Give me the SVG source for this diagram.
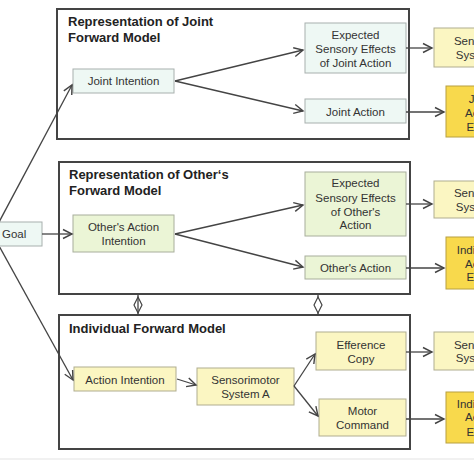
<svg xmlns="http://www.w3.org/2000/svg" width="474" height="474" viewBox="0 0 474 474">
<defs>
<marker id="ah" markerUnits="userSpaceOnUse" markerWidth="12" markerHeight="12" refX="10" refY="6" orient="auto">
<path d="M1,1.5 L10,6 L1,10.5" fill="none" stroke="#444" stroke-width="1.4"/>
</marker>
<style>
.frame{fill:#fff;stroke:#444;stroke-width:2}
.title{font-family:"Liberation Sans",Arial,sans-serif;font-size:13px;font-weight:bold;fill:#222}
.t{font-family:"Liberation Sans",Arial,sans-serif;font-size:11.5px;fill:#333;text-anchor:middle}
.cyan{fill:#eef8f4;stroke:#a8b0ae;stroke-width:1}
.green{fill:#ebf5d6;stroke:#a8ae9c;stroke-width:1}
.yel{fill:#fbf6c2;stroke:#b0ad90;stroke-width:1}
.gold{fill:#f8d94c;stroke:#b8a040;stroke-width:1}
.c{fill:none;stroke:#444;stroke-width:1.3}
.a{fill:none;stroke:#444;stroke-width:1.3;marker-end:url(#ah)}
.dia{fill:#fff;stroke:#444;stroke-width:1.2}
</style>
</defs>
<rect x="0" y="0" width="474" height="474" fill="#fff"/>
<line x1="0" y1="459" x2="474" y2="459" stroke="#ececec" stroke-width="1.5"/>

<g id="frame-joint">
<rect class="frame" x="57" y="9" width="352" height="130"/>
<text class="title" x="68" y="26">Representation of Joint</text>
<text class="title" x="68" y="42">Forward Model</text>
</g>
<g id="frame-other">
<rect class="frame" x="59" y="162" width="351" height="132"/>
<text class="title" x="69" y="179">Representation of Other‘s</text>
<text class="title" x="69" y="195">Forward Model</text>
</g>
<g id="frame-individual">
<rect class="frame" x="59" y="315" width="351" height="134"/>
<text class="title" x="69" y="333">Individual Forward Model</text>
</g>

<g id="goal">
<rect class="cyan" x="-30" y="222" width="72" height="24"/>
<text class="t" x="2" y="238" style="text-anchor:start">Goal</text>
</g>

<g id="joint-intention">
<rect class="cyan" x="73" y="69" width="101" height="24"/>
<text class="t" x="123.5" y="85">Joint Intention</text>
</g>
<g id="expected-joint">
<rect class="cyan" x="305" y="23" width="101" height="50"/>
<text class="t" x="355.5" y="39">Expected</text>
<text class="t" x="355.5" y="53">Sensory Effects</text>
<text class="t" x="355.5" y="67">of Joint Action</text>
</g>
<g id="joint-action">
<rect class="cyan" x="305" y="99" width="101" height="24"/>
<text class="t" x="355.5" y="115.5">Joint Action</text>
</g>
<g id="sensory-1">
<rect class="yel" x="434" y="28" width="84" height="39"/>
<text class="t" x="475" y="45">Sensory</text>
<text class="t" x="475" y="59">System</text>
</g>
<g id="effect-1">
<rect class="gold" x="446" y="86" width="72" height="51"/>
<text class="t" x="481" y="102.5">Joint</text>
<text class="t" x="481" y="116.5">Action</text>
<text class="t" x="481" y="130.5">Effect</text>
</g>

<g id="others-intention">
<rect class="green" x="73" y="215" width="101" height="37"/>
<text class="t" x="123.5" y="231">Other's Action</text>
<text class="t" x="123.5" y="245">Intention</text>
</g>
<g id="expected-other">
<rect class="green" x="305" y="172" width="101" height="64"/>
<text class="t" x="355.5" y="187">Expected</text>
<text class="t" x="355.5" y="201.5">Sensory Effects</text>
<text class="t" x="355.5" y="215.5">of Other's</text>
<text class="t" x="355.5" y="229">Action</text>
</g>
<g id="others-action">
<rect class="green" x="305" y="256" width="101" height="23"/>
<text class="t" x="355.5" y="272">Other's Action</text>
</g>
<g id="sensory-2">
<rect class="yel" x="434" y="181" width="84" height="37"/>
<text class="t" x="475" y="197">Sensory</text>
<text class="t" x="475" y="211">System</text>
</g>
<g id="effect-2">
<rect class="gold" x="446" y="237" width="72" height="52"/>
<text class="t" x="481" y="254">Individual</text>
<text class="t" x="481" y="267.5">Action</text>
<text class="t" x="481" y="281">Effect</text>
</g>

<g id="action-intention">
<rect class="yel" x="74" y="367" width="102" height="24"/>
<text class="t" x="125" y="384">Action Intention</text>
</g>
<g id="sensorimotor">
<rect class="yel" x="197" y="368" width="97" height="37"/>
<text class="t" x="245.5" y="384">Sensorimotor</text>
<text class="t" x="245.5" y="398">System A</text>
</g>
<g id="efference-copy">
<rect class="yel" x="316" y="332" width="90" height="38"/>
<text class="t" x="361" y="349">Efference</text>
<text class="t" x="361" y="363">Copy</text>
</g>
<g id="motor-command">
<rect class="yel" x="319" y="399" width="87" height="37"/>
<text class="t" x="362.5" y="415">Motor</text>
<text class="t" x="362.5" y="429">Command</text>
</g>
<g id="sensory-3">
<rect class="yel" x="434" y="332" width="84" height="38"/>
<text class="t" x="475" y="349">Sensory</text>
<text class="t" x="475" y="362">System</text>
</g>
<g id="effect-3">
<rect class="gold" x="446" y="392" width="72" height="51"/>
<text class="t" x="481" y="408">Individual</text>
<text class="t" x="481" y="421">Action</text>
<text class="t" x="481" y="436">Effect</text>
</g>

<g id="connectors">
<line class="a" x1="-2" y1="224" x2="72" y2="85"/>
<line class="a" x1="-2" y1="244" x2="73" y2="380"/>
<line class="a" x1="42" y1="234" x2="72" y2="234"/>

<line class="a" x1="175" y1="81" x2="303" y2="50"/>
<line class="a" x1="175" y1="81" x2="303" y2="111"/>
<line class="a" x1="406" y1="48" x2="432" y2="48"/>
<line class="a" x1="406" y1="112" x2="444" y2="112"/>

<line class="a" x1="175" y1="234" x2="303" y2="205"/>
<line class="a" x1="175" y1="234" x2="303" y2="267"/>
<line class="a" x1="406" y1="204" x2="432" y2="204"/>
<line class="a" x1="406" y1="268" x2="444" y2="268"/>

<line class="a" x1="177" y1="379" x2="196" y2="385"/>
<line class="a" x1="294" y1="386" x2="315" y2="354"/>
<line class="a" x1="294" y1="386" x2="318" y2="416"/>
<line class="a" x1="406" y1="352" x2="432" y2="352"/>
<line class="a" x1="406" y1="419" x2="444" y2="419"/>

<line class="c" x1="138" y1="294" x2="138" y2="315"/>
<polygon class="dia" points="138,297 142,305 138,313 134,305"/>
<line class="c" x1="138" y1="297" x2="138" y2="313"/>
<line class="c" x1="318" y1="294" x2="318" y2="315"/>
<polygon class="dia" points="318,297 322,305 318,313 314,305"/>
</g>
</svg>
